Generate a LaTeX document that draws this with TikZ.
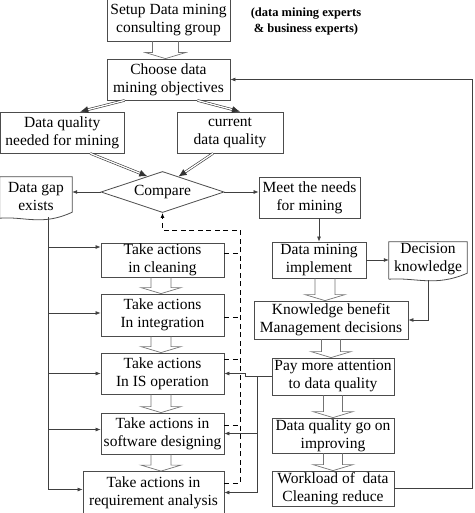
\documentclass[tikz,border=0pt]{standalone}
\usepackage{fontspec}
\setmainfont{Liberation Serif}
\usetikzlibrary{shapes.geometric,arrows.meta,calc}
\tikzset{
  box/.style={draw=black!70, line width=0.8pt, align=center, inner sep=0pt,
    font=\fontsize{15.5}{18}\selectfont},
  doc/.style={align=center, inner sep=0pt, font=\fontsize{15.5}{18}\selectfont},
  line/.style={draw=black!75, line width=0.7pt},
  arr/.style={line, -{Latex[length=5pt,width=4pt]}},
  dbl/.style={draw=black!80, double, double distance=1.3pt, line width=0.6pt,
    -{Latex[length=8pt,width=7pt]}},
  dline/.style={draw=black, line width=1pt, dash pattern=on 5pt off 3.5pt},
  hollow/.style={draw=black!55, line width=0.7pt, to path={
    let \p1=(\tikztostart), \p2=(\tikztotarget) in
    (\x1-#1,\y1) -- (\x1-#1,\y2+6pt) -- (\x1-20pt,\y2+6pt) -- (\x1,\y2)
    -- (\x1+20pt,\y2+6pt) -- (\x1+#1,\y2+6pt) -- (\x1+#1,\y1)}},
  hollow/.default=10pt
}
\begin{document}
\begin{tikzpicture}[x=1pt,y=-1pt]
\useasboundingbox (0,0) rectangle (474,513);

% top part
\node[box, minimum width=123pt, minimum height=42pt] (setup) at (168.5,20) {Setup Data mining\\consulting group};
\node[align=center, inner sep=0pt, font=\fontsize{12.5}{15.5}\selectfont\bfseries] (note) at (306,21.5) {(data mining experts\\\& business experts)};
\node[box, minimum width=123pt, minimum height=41pt] (choose) at (168.5,79.5) {Choose data\\mining objectives};
\node[box, minimum width=123.5pt, minimum height=41pt] (need) at (62.25,132.5) {Data quality\\needed for mining};
\node[box, minimum width=106pt, minimum height=41pt] (current) at (230,132.5) {current\\data quality};
\node[box, diamond, aspect=3, minimum width=123pt, minimum height=41pt] (compare) at (162.5,192) {Compare};
\node[doc, minimum width=72pt, minimum height=40pt] (gap) at (36,197) {Data gap\\exists};

% left column
\node[box, minimum width=123pt, minimum height=34pt] (clean) at (162.5,260) {Take actions\\in cleaning};
\node[box, minimum width=123pt, minimum height=42pt] (integ) at (162.5,315) {Take actions\\In integration};
\node[box, minimum width=123pt, minimum height=41pt] (isop) at (162.5,373.5) {Take actions\\In IS operation};
\node[box, minimum width=123pt, minimum height=41pt] (soft) at (162.5,433.5) {Take actions in\\software designing};
\node[box, minimum width=141pt, minimum height=42pt] (req) at (153.5,492.5) {Take actions in\\requirement analysis};

% right column
\node[box, minimum width=101pt, minimum height=41pt] (meet) at (309.5,197.5) {Meet the needs\\for mining};
\node[box, minimum width=94pt, minimum height=36pt] (implement) at (319,260) {Data mining\\implement};
\node[doc, minimum width=78pt, minimum height=34pt] (decision) at (428,259) {Decision\\knowledge};
\node[box, minimum width=154pt, minimum height=38pt] (knowledge) at (331,320) {Knowledge benefit\\Management decisions};
\node[box, minimum width=122pt, minimum height=37pt] (pay) at (333,376.5) {Pay more attention\\to data quality};
\node[box, minimum width=122pt, minimum height=35pt] (improve) at (333,435.5) {Data quality go on\\improving};
\node[box, minimum width=122pt, minimum height=35pt] (workload) at (333,488.5) {Workload of~ data\\Cleaning reduce};

% document shapes
\draw[draw=black!70, line width=0.8pt] ([yshift=-1pt]gap.south west) -- (gap.north west) -- (gap.north east)
  -- ([yshift=5pt]gap.south east) .. controls +(-30,14) and +(25,-2) .. ([yshift=-1pt]gap.south west);
\draw[draw=black!70, line width=0.8pt] ([yshift=-3pt]decision.south west) -- (decision.north west) -- (decision.north east)
  -- ([yshift=3pt]decision.south east) .. controls +(-32,14) and +(27,-2) .. ([yshift=-3pt]decision.south west);

% hollow arrows
\draw[hollow=13pt] ([xshift=-3pt]setup.south) to (choose.north);
\foreach \a/\b in {clean/integ,integ/isop,isop/soft,soft/req}
  \draw[hollow] ([xshift=-1.5pt]\a.south) to (\b.north);
\draw[hollow] ([xshift=6pt]implement.south) to (knowledge.north);
\foreach \a/\b in {knowledge/pay,pay/improve,improve/workload}
  \draw[hollow=9.5pt] (\a.south) to (\b.north);

% double arrows
\draw[dbl] ([xshift=18pt]choose.south west) -- ([xshift=18pt]need.north);
\draw[dbl] ([xshift=-33pt]choose.south east) -- ([xshift=10pt]current.north);
\draw[dbl] ([xshift=28pt]need.south) -- (compare.134);
\draw[dbl] ([xshift=-17pt]current.south) -- (compare.44);

% plain arrows
\draw[arr] (compare.west) -- (compare.west -| gap.east);
\draw[arr] (compare.east) -- (compare.east -| meet.west);
\draw[arr] (implement.north |- meet.south) -- (implement.north);
\draw[arr] (implement.east) -- (implement.east -| decision.west);
\draw[arr] ([yshift=-4pt]decision.south) |- (knowledge.east);
\coordinate (rt) at (472,79.5);
\draw[arr] (workload.east) -| (rt) -- (choose.east);

% data gap branches
\coordinate (gx) at ([xshift=12pt]gap.south);
\draw[arr] (gx) |- ([yshift=3pt]req.west);
\foreach \n/\s in {clean/13,integ/2,isop/0,soft/4}{
  \path ($(\n.west)+(0,-\s)$) coordinate (t\n);
  \draw[arr] (gx |- t\n) -- (t\n);
}

% dashed feedback
\coordinate (dx) at (240,230);
\draw[dline, -{Latex[length=5pt,width=4pt]}] ([yshift=9.5pt]req.east) -| (dx) -| (compare.south);
\foreach \n/\s in {clean/7,integ/-2,isop/14.5,soft/8.5}
  \draw[dline] ([yshift=\s pt]\n.east) -- ++(16,0);

% back to the actions
\draw[arr] (pay.west) -- ++(-26,0) -- ++(0,-3) -- (isop.east);
\coordinate (vx) at ([xshift=-14pt]pay.west);
\draw[arr] (vx) |- (req.east);
\draw[arr] (vx |- soft.east) -- (soft.east);
\end{tikzpicture}
\end{document}
